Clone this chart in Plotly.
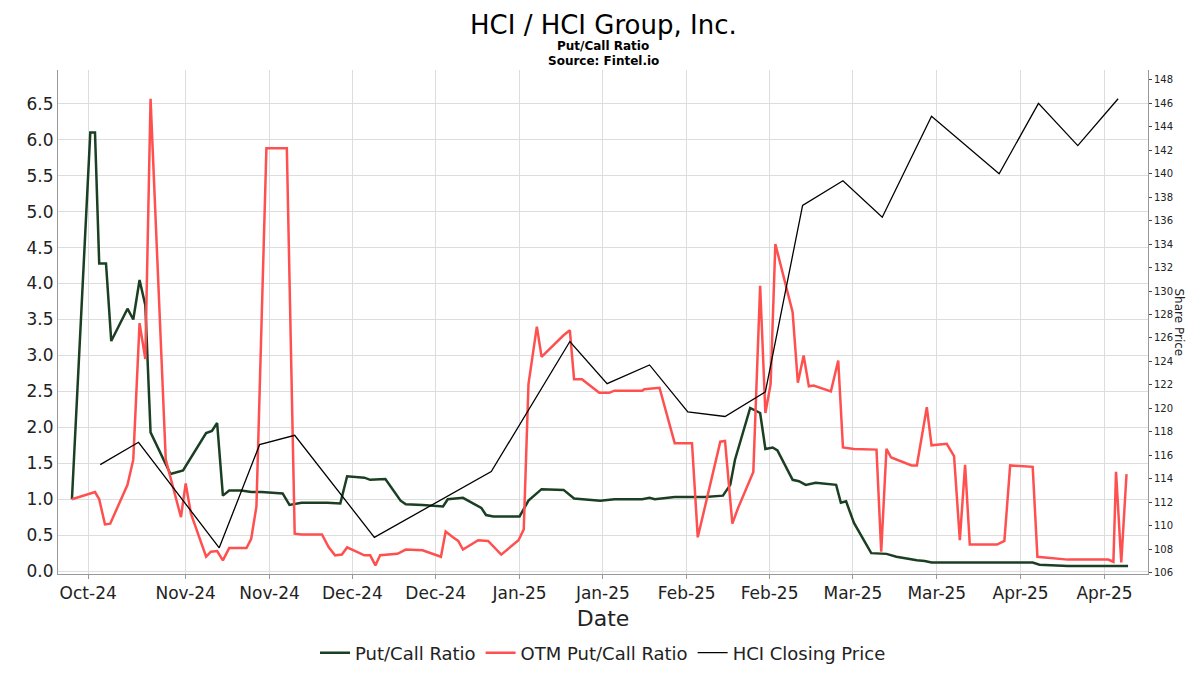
import plotly.graph_objects as go

# x = days since 2024-09-28
pc_day = [0,3.5,4.4,5.2,6.5,7.5,10.6,11.7,12.9,14,15,18.8,21.2,25.6,26.7,27.7,28.8,30,32.3,34.2,36.2,40.2,41.5,43.8,48.7,51.2,52.5,55.8,56.9,59.8,62.7,63.7,66.9,70.8,71.7,74.6,78.1,79,80.4,85.4,87.1,89.6,93.8,95.8,100.8,103.5,108.8,110.2,111.2,115,120.8,124.2,125.6,126.5,129.4,131.3,132.3,133.7,134.6,137.5,138.7,140,141.9,145.8,146.7,147.7,149.2,152.5,155.4,157.3,161.2,162.7,164,166.9,178.5,183.3,184.6,190,197.7,201.5]
pc_val = [1.0,6.1,6.1,4.28,4.28,3.2,3.65,3.5,4.05,3.7,1.93,1.35,1.4,1.92,1.95,2.06,1.05,1.12,1.12,1.1,1.1,1.08,0.92,0.95,0.95,0.94,1.32,1.3,1.27,1.28,0.98,0.93,0.92,0.9,1.0,1.02,0.88,0.78,0.76,0.76,0.98,1.14,1.13,1.01,0.98,1.0,1.0,1.02,1.0,1.03,1.03,1.05,1.2,1.55,2.27,2.2,1.7,1.72,1.68,1.27,1.25,1.2,1.23,1.2,0.95,0.97,0.67,0.25,0.24,0.2,0.15,0.14,0.12,0.12,0.12,0.12,0.09,0.07,0.07,0.07]

otm_day = [0,4.4,5.2,6.3,7.3,10.6,11.7,12.9,14,15,17.9,19.8,20.8,21.7,22.7,25.6,26.5,27.7,28.8,30,33.3,34.2,35.2,37.1,41,42.5,43.8,47.7,49,50.2,51.5,52.5,55.8,56.9,57.9,58.8,62.1,63.7,66.9,70.4,71.3,72.7,73.7,74.6,77.5,79.4,81.9,85.2,86.2,87.1,88.7,89.6,93.8,95,95.8,97.3,100.6,102.5,103.5,108.8,109.2,112.1,115,118.3,119.4,123.7,124.6,126,127.1,130,131.3,132.3,133.3,134.2,137.5,138.5,139.6,140.6,141.5,144.8,146.2,147.1,149.2,153.5,154.4,155.4,156.3,160.2,161.2,163.1,164,166.9,168.3,169.4,170.4,171.3,176.5,177.9,179,183.3,184.2,190,197.7,198.7,199.2,200.2,201.2]
otm_val = [1.0,1.1,1.0,0.65,0.66,1.2,1.55,3.45,2.95,6.57,1.55,1.0,0.75,1.22,0.8,0.2,0.27,0.28,0.15,0.32,0.32,0.45,0.9,5.88,5.88,0.52,0.51,0.51,0.33,0.22,0.23,0.33,0.22,0.22,0.08,0.22,0.24,0.3,0.29,0.2,0.55,0.47,0.42,0.3,0.43,0.42,0.23,0.43,0.58,2.6,3.4,2.98,3.28,3.35,2.67,2.67,2.48,2.48,2.51,2.51,2.53,2.55,1.78,1.78,0.47,1.8,1.81,0.66,0.88,1.38,3.97,2.2,2.6,4.55,3.6,2.62,3.0,2.57,2.58,2.5,2.93,1.72,1.7,1.69,0.27,1.7,1.58,1.47,1.47,2.28,1.75,1.77,1.6,0.43,1.48,0.37,0.37,0.42,1.47,1.45,0.2,0.16,0.16,0.13,1.38,0.12,1.35]

price_day = [5.4,12.7,28.1,35.8,42.5,57.7,80,95,102.1,110.2,117.5,124.6,132.3,139.4,147.1,154.6,164,176.9,184.4,191.9,199.6]
price_val = [115.2,117.1,108.1,116.9,117.7,109.0,114.6,125.7,122.1,123.7,119.7,119.3,121.4,137.3,139.4,136.3,144.9,140.0,146.0,142.4,146.4]

tick_days = [3.1,21.7,37.7,53.5,69.4,85.4,101.3,117.3,133.1,149,165,181,197]
tick_labels = ["Oct-24","Nov-24","Nov-24","Dec-24","Dec-24","Jan-25","Jan-25","Feb-25","Feb-25","Mar-25","Mar-25","Apr-25","Apr-25"]

fig = go.Figure()
fig.add_trace(go.Scatter(x=pc_day, y=pc_val, mode="lines", name="Put/Call Ratio",
                         line=dict(color="#1b3f22", width=2.5)))
fig.add_trace(go.Scatter(x=otm_day, y=otm_val, mode="lines", name="OTM Put/Call Ratio",
                         line=dict(color="#ff5050", width=2.5)))
fig.add_trace(go.Scatter(x=price_day, y=price_val, mode="lines", name="HCI Closing Price",
                         line=dict(color="black", width=1.3), yaxis="y2"))

fig.update_layout(
    width=1200, height=675, paper_bgcolor="white", plot_bgcolor="white",
    font=dict(family="DejaVu Sans", color="#222"),
    margin=dict(l=50, r=60, t=62, b=100),
    xaxis=dict(range=[-2.66, 205.3], tickvals=tick_days, ticktext=tick_labels,
               tickfont=dict(size=17), showgrid=True, gridcolor="#dddddd",
               title=dict(text="Date", font=dict(size=22), standoff=8),
               showline=True, linecolor="#999", ticks="outside", ticklen=4, tickcolor="#999", zeroline=False),
    yaxis=dict(range=[-0.04, 6.97], tickvals=[0,0.5,1,1.5,2,2.5,3,3.5,4,4.5,5,5.5,6,6.5],
               tickformat=".1f", tickfont=dict(size=17), showgrid=True, gridcolor="#dddddd",
               zeroline=False, showline=True, linecolor="#999"),
    yaxis2=dict(range=[105.87, 148.85], overlaying="y", side="right", dtick=2,
                tickfont=dict(size=10), showgrid=False, zeroline=False, showline=True, linecolor="#999",
                ticks="outside", ticklen=3),
    legend=dict(orientation="h", x=0.5, xanchor="center", y=-0.12, yanchor="top",
                font=dict(size=18)),
    annotations=[
        dict(text="HCI / HCI Group, Inc.", xref="paper", yref="paper", x=0.5, y=1.0, yshift=62,
             yanchor="top", showarrow=False, font=dict(size=26, color="black")),
        dict(text="<b>Put/Call Ratio</b>", xref="paper", yref="paper", x=0.5, y=1.0, yshift=33,
             yanchor="top", showarrow=False, font=dict(size=12, color="black")),
        dict(text="<b>Source: Fintel.io</b>", xref="paper", yref="paper", x=0.5, y=1.0, yshift=18,
             yanchor="top", showarrow=False, font=dict(size=12, color="black")),
        dict(text="Share Price", textangle=90, xref="paper", yref="paper",
             x=1.028, y=0.5, showarrow=False, font=dict(size=12), xanchor="center")]
)
fig.write_html("out.html")
